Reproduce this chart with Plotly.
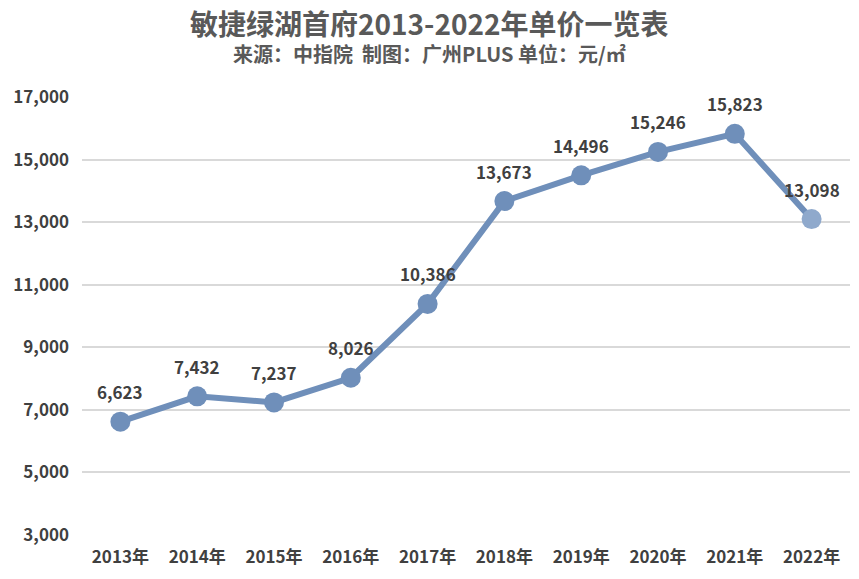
import plotly.graph_objects as go

years = ["2013年", "2014年", "2015年", "2016年", "2017年", "2018年", "2019年", "2020年", "2021年", "2022年"]
prices = [6623, 7432, 7237, 8026, 10386, 13673, 14496, 15246, 15823, 13098]
y_ticks = [3000, 5000, 7000, 9000, 11000, 13000, 15000, 17000]

line_color = "#6f8fba"
last_color = "#8fa9cc"
marker_colors = [line_color] * (len(prices) - 1) + [last_color]
FONT = "Noto Sans CJK SC"

W, H = 859, 579
ML, MR, MT, MB = 82, 9, 97, 44
plot_w = W - ML - MR
plot_h = H - MT - MB


def paper_x(px):
    return (px - ML) / plot_w


def paper_y(px_from_top):
    return (H - MB - px_from_top) / plot_h


fig = go.Figure()
fig.add_trace(go.Scatter(
    x=years, y=prices, mode="lines+markers",
    line=dict(color=line_color, width=6),
    marker=dict(size=20, color=marker_colors),
    cliponaxis=False,
    hoverinfo="skip",
))

anns = []
for yr, v in zip(years, prices):
    anns.append(dict(
        x=yr, y=v, text=f"{v:,}", showarrow=False,
        yshift=30, xref="x", yref="y",
        font=dict(family=FONT, size=17, color="#404040", weight="bold"),
    ))
anns.append(dict(x=paper_x(W / 2), y=paper_y(23), xref="paper", yref="paper", showarrow=False,
                 text="敏捷绿湖首府2013-2022年单价一览表", yanchor="middle", borderpad=0,
                 font=dict(family=FONT, size=28, color="#595959", weight="bold")))
anns.append(dict(x=paper_x(W / 2), y=paper_y(54), xref="paper", yref="paper", showarrow=False,
                 text="来源：中指院&nbsp;&nbsp;制图：广州PLUS 单位：元/㎡", yanchor="middle", borderpad=0,
                 font=dict(family=FONT, size=20, color="#595959", weight="bold")))

fig.update_layout(
    width=W, height=H,
    margin=dict(l=ML, r=MR, t=MT, b=MB),
    paper_bgcolor="white", plot_bgcolor="white",
    showlegend=False,
    font=dict(family=FONT),
    annotations=anns,
)

fig.update_xaxes(
    range=[-0.5, 9.5], showgrid=False, showline=False, zeroline=False,
    tickfont=dict(family=FONT, size=17, color="#404040", weight="bold"),
    ticks="", ticklabelstandoff=10,
)
fig.update_yaxes(
    range=[3000, 17000], tickvals=y_ticks,
    ticktext=[f"{v:,}" for v in y_ticks],
    showgrid=True, gridcolor="#d9d9d9", gridwidth=2, zeroline=False,
    tickfont=dict(family=FONT, size=17, color="#404040", weight="bold"),
    ticks="", ticklabelstandoff=12,
)

fig.write_html("out.html")
